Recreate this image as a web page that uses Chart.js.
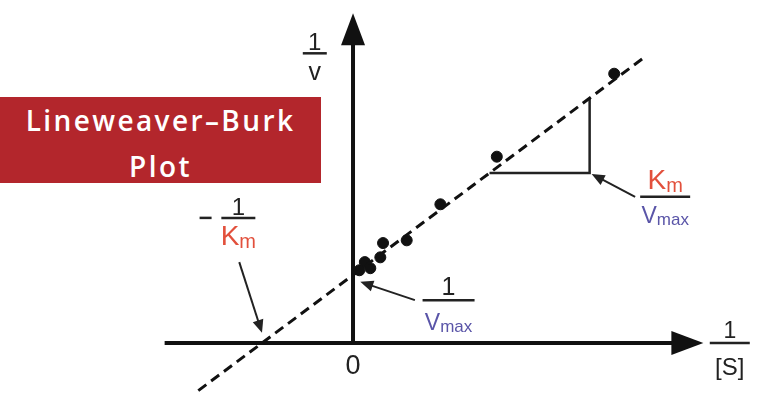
<!DOCTYPE html>
<html>
<head>
<meta charset="utf-8">
<script src="https://cdn.jsdelivr.net/npm/chart.js@4.4.1/dist/chart.umd.min.js"></script>
<style>
  html, body { margin: 0; padding: 0; background: #fff; }
  #wrap { position: relative; width: 768px; height: 403px; }
  #title {
    position: absolute; left: 0; top: 97px; width: 321px; height: 86px;
    background: #b3262c; color: #fff; text-align: center;
    font-family: "Open Sans", sans-serif; font-weight: 600; font-size: 28px;
    letter-spacing: 2.4px; line-height: 46px; box-sizing: border-box; padding-top: 0px;
    overflow: hidden;
  }
</style>
</head>
<body>
<div id="wrap">
  <canvas id="lbChart" width="768" height="403"></canvas>
  <div id="title">Lineweaver–Burk<br>Plot</div>
</div>
<script>
// measured points: x = 1/[S], y = 1/v (units: 1/Km = 1, 1/Vmax = 1)
const invS = [2.87, 1.58, 0.96, 0.59, 0.33, 0.30, 0.13, 0.19, 0.07];
const invV = [3.96, 2.74, 2.04, 1.51, 1.47, 1.26, 1.19, 1.10, 1.07];

// fitted line y = x + 1, drawn dashed between its two ends
const fitX = [-1.70, 3.22];
const fitY = [-0.70, 4.22];

// slope triangle (Km / Vmax)
const triX = [1.50, 2.60];
const triY = [2.50, 3.60];

// axis extents
const axisX = [-2.07, 3.85];
const axisY = [0, 4.85];

const RED = "#e2503c";
const BLUE = "#5a55a8";
const FONT = '"Liberation Sans", Arial, sans-serif';

function arrowHead(ctx, x1, y1, x2, y2, len, half) {
  const a = Math.atan2(y2 - y1, x2 - x1);
  ctx.beginPath();
  ctx.moveTo(x2, y2);
  ctx.lineTo(x2 - len * Math.cos(a) + half * Math.sin(a), y2 - len * Math.sin(a) - half * Math.cos(a));
  ctx.lineTo(x2 - len * Math.cos(a) - half * Math.sin(a), y2 - len * Math.sin(a) + half * Math.cos(a));
  ctx.closePath();
  ctx.fill();
}

function arrow(ctx, x1, y1, x2, y2) {
  ctx.lineWidth = 2;
  ctx.strokeStyle = "#222";
  ctx.fillStyle = "#222";
  const a = Math.atan2(y2 - y1, x2 - x1);
  ctx.beginPath();
  ctx.moveTo(x1, y1);
  ctx.lineTo(x2 - 8 * Math.cos(a), y2 - 8 * Math.sin(a));
  ctx.stroke();
  arrowHead(ctx, x1, y1, x2, y2, 13, 5.5);
}

// parts: [{t, size, color, dy}] drawn centred on cx at baseline y
function parts(ctx, list, cx, y) {
  let w = 0;
  list.forEach(p => { ctx.font = p.size + "px " + FONT; w += ctx.measureText(p.t).width; });
  let x = cx - w / 2;
  ctx.textAlign = "left";
  ctx.textBaseline = "alphabetic";
  list.forEach(p => {
    ctx.font = p.size + "px " + FONT;
    ctx.fillStyle = p.color;
    ctx.fillText(p.t, x, y + (p.dy || 0));
    x += ctx.measureText(p.t).width;
  });
}

function fraction(ctx, cx, by, half, top, bottom, upGap, downGap) {
  ctx.strokeStyle = "#222";
  ctx.lineWidth = 2.5;
  ctx.beginPath();
  ctx.moveTo(cx - half, by);
  ctx.lineTo(cx + half, by);
  ctx.stroke();
  parts(ctx, top, cx, by - upGap);
  parts(ctx, bottom, cx, by + downGap);
}

const Km = [{ t: "K", size: 28, color: RED }, { t: "m", size: 20, color: RED, dy: 3 }];
const Vmax = [{ t: "V", size: 23, color: BLUE }, { t: "max", size: 17, color: BLUE, dy: 2 }];
const one = s => [{ t: "1", size: s, color: "#222" }];

const diagram = {
  id: "diagram",
  beforeDatasetsDraw(chart) {
    const ctx = chart.ctx;
    const xs = chart.scales.x, ys = chart.scales.y;
    const X = v => xs.getPixelForValue(v), Y = v => ys.getPixelForValue(v);
    ctx.save();
    ctx.fillStyle = "#111";
    ctx.strokeStyle = "#111";
    ctx.lineWidth = 4;
    // x axis
    ctx.beginPath();
    ctx.moveTo(X(axisX[0]), Y(0));
    ctx.lineTo(X(axisX[1]) - 20, Y(0));
    ctx.stroke();
    arrowHead(ctx, X(axisX[0]), Y(0), X(axisX[1]), Y(0), 32, 12);
    // y axis
    ctx.beginPath();
    ctx.moveTo(X(0), Y(axisY[0]));
    ctx.lineTo(X(0), Y(axisY[1]) + 20);
    ctx.stroke();
    arrowHead(ctx, X(0), Y(axisY[0]), X(0), Y(axisY[1]), 32, 12);
    // triangle
    ctx.lineWidth = 2.5;
    ctx.strokeStyle = "#222";
    ctx.beginPath();
    ctx.moveTo(X(triX[0]), Y(triY[0]));
    ctx.lineTo(X(triX[1]), Y(triY[0]));
    ctx.lineTo(X(triX[1]), Y(triY[1]));
    ctx.stroke();
    ctx.restore();
  },
  afterDatasetsDraw(chart) {
    const ctx = chart.ctx;
    const xs = chart.scales.x, ys = chart.scales.y;
    const X = v => xs.getPixelForValue(v), Y = v => ys.getPixelForValue(v);
    ctx.save();
    // 0 label
    ctx.font = "27px " + FONT;
    ctx.fillStyle = "#222";
    ctx.textAlign = "center";
    ctx.textBaseline = "alphabetic";
    ctx.fillText("0", X(0), Y(0) + 31);

    // 1/v
    fraction(ctx, X(-0.42), Y(4.26), 12, one(24), [{ t: "v", size: 25, color: "#222" }], 3, 27);
    // 1/[S]
    fraction(ctx, X(4.14), Y(0), 20, one(23), [{ t: "[S]", size: 24, color: "#222" }], 5, 32);
    // -1/Km
    fraction(ctx, X(-1.26), Y(1.84), 17, one(24), Km, 3, 27);
    ctx.lineWidth = 2.5;
    ctx.beginPath();
    ctx.moveTo(X(-1.62) - 6, Y(1.84));
    ctx.lineTo(X(-1.62) + 6, Y(1.84));
    ctx.stroke();
    arrow(ctx, X(-1.25), Y(1.19), X(-1), Y(0.15));
    // 1/Vmax
    fraction(ctx, X(1.05), Y(0.63), 26, one(25), Vmax, 5, 30);
    arrow(ctx, X(0.68), Y(0.63), X(0.08), Y(0.9));
    // Km/Vmax
    fraction(ctx, X(3.43), Y(2.15), 25, Km, Vmax, 8, 26);
    arrow(ctx, X(3.10), Y(2.15), X(triX[1]) + 2, Y(triY[0]) + 1);
    ctx.restore();
  }
};

new Chart(document.getElementById("lbChart"), {
  type: "scatter",
  data: {
    datasets: [
      {
        label: "fit",
        type: "line",
        data: fitX.map((x, i) => ({ x: x, y: fitY[i] })),
        borderColor: "#111",
        borderWidth: 3,
        borderDash: [10, 6],
        pointRadius: 0,
        fill: false
      },
      {
        label: "data",
        data: invS.map((x, i) => ({ x: x, y: invV[i] })),
        backgroundColor: "#111",
        borderColor: "#111",
        pointRadius: 5.5,
        pointHoverRadius: 5.5
      }
    ]
  },
  options: {
    responsive: false,
    animation: false,
    events: [],
    layout: { padding: 0, autoPadding: false },
    plugins: { legend: { display: false }, tooltip: { enabled: false } },
    scales: {
      x: { type: "linear", min: -3.879, max: 4.560, display: false },
      y: { type: "linear", min: -0.882, max: 5.044, display: false }
    }
  },
  plugins: [diagram]
});
</script>
</body>
</html>
